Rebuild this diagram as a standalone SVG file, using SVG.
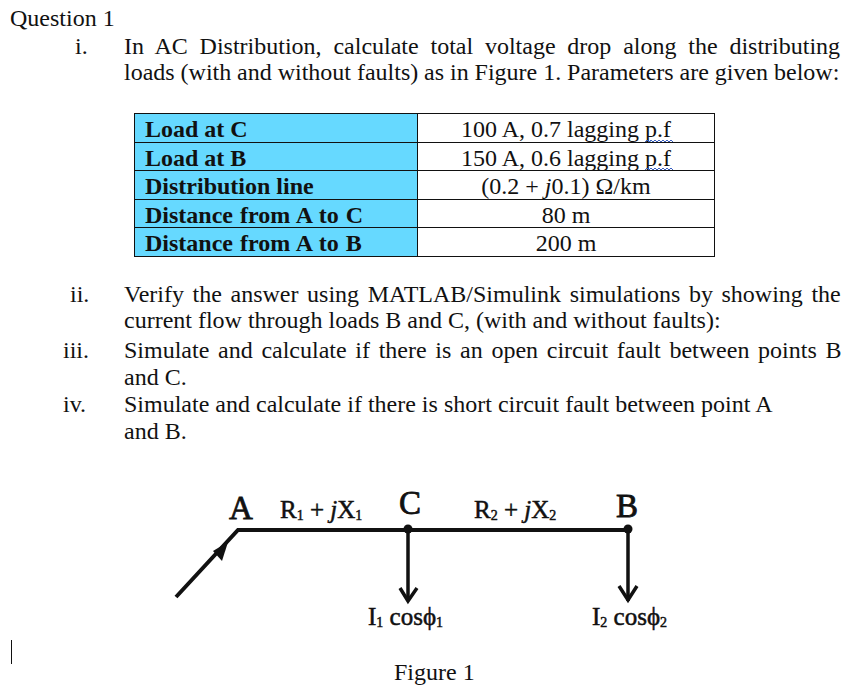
<svg xmlns="http://www.w3.org/2000/svg" width="857" height="698" viewBox="0 0 857 698">
<style>
text{font-family:"Liberation Serif","Times New Roman",serif;fill:#111}
.t{font-size:24px}
.b{font-size:24px;font-weight:bold}
.c{font-size:24px;text-anchor:middle}
.n{font-size:33px;stroke:#111;stroke-width:.8}
.l{font-size:25px;stroke:#111;stroke-width:.5}
.s{font-size:14px}
.cell{fill:#fff;stroke:#111;stroke-width:1}
.blue{fill:#66D9FF;stroke:#111;stroke-width:1}
.wire{fill:none;stroke:#111;stroke-width:4}
.drop{fill:none;stroke:#111;stroke-width:3.500}
.wavy{fill:none;stroke:#3a5fc0;stroke-width:1}
</style>
<rect width="857" height="698" fill="#fff"/>
<g id="text">
<text class="t" x="10" y="26">Question 1</text>
<text class="t" x="75" y="54">i.</text>
<text class="t" x="124" y="54" word-spacing="5.8">In AC Distribution, calculate total voltage drop along the distributing</text>
<text class="t" x="124" y="80" word-spacing="-0.1">loads (with and without faults) as in Figure 1. Parameters are given below:</text>
<text class="t" x="70" y="302">ii.</text>
<text class="t" x="124" y="302" word-spacing="2.6">Verify the answer using MATLAB/Simulink simulations by showing the</text>
<text class="t" x="124" y="328">current flow through loads B and C, (with and without faults):</text>
<text class="t" x="63" y="358">iii.</text>
<text class="t" x="124" y="358" word-spacing="2.700">Simulate and calculate if there is an open circuit fault between points B</text>
<text class="t" x="124" y="385">and C.</text>
<text class="t" x="63" y="412">iv.</text>
<text class="t" x="124" y="412">Simulate and calculate if there is short circuit fault between point A</text>
<text class="t" x="124" y="439">and B.</text>
<text class="t" x="394" y="680">Figure 1</text>
</g>
<g id="table">
<rect class="blue" x="134.500" y="113.500" width="283" height="143"/>
<rect class="cell" x="417.500" y="113.500" width="297" height="143"/>
<path d="M134 142.500H715M134 170.500H715M134 199.500H715M134 227.500H715" stroke="#111" fill="none"/>
<text class="b" x="145" y="137">Load at C</text>
<text class="b" x="145" y="166">Load at B</text>
<text class="b" x="145" y="194">Distribution line</text>
<text class="b" x="145" y="223" word-spacing="1">Distance from A to C</text>
<text class="b" x="145" y="251" word-spacing="1">Distance from A to B</text>
<text class="c" x="566" y="137">100 A, 0.7 lagging p.f</text>
<text class="c" x="566" y="166">150 A, 0.6 lagging p.f</text>
<text class="c" x="566" y="194">(0.2 + <tspan font-style="italic">j</tspan>0.1) Ω/km</text>
<text class="c" x="566" y="223">80 m</text>
<text class="c" x="566" y="251">200 m</text>
<path class="wavy" d="M645 142l2-2 2 2 2-2 2 2 2-2 2 2 2-2 2 2 2-2 2 2 2-2 2 2 2-2 2 2"/>
<path class="wavy" d="M645 170l2-2 2 2 2-2 2 2 2-2 2 2 2-2 2 2 2-2 2 2 2-2 2 2 2-2 2 2"/>
</g>
<g id="connectors">
<path class="wire" d="M176 597L238 530H628"/>
<polygon points="228,542 213,551 222,561" fill="#111"/>
<path class="drop" d="M408 530V601"/>
<path class="drop" d="M400 588L408 601L417 588"/>
<path class="drop" d="M628 530V601"/>
<path class="drop" d="M619 586L628 600L637 586"/>
</g>
<g id="node-A"><text class="n" x="229" y="519">A</text></g>
<g id="node-C"><circle cx="408" cy="529" r="4.500" fill="#111"/><text class="n" x="399" y="514">C</text></g>
<g id="node-B"><circle cx="628" cy="529" r="4.500" fill="#111"/><text class="n" x="616" y="517">B</text></g>
<g id="labels">
<text class="l" x="280" y="518">R<tspan class="s" dy="2">1</tspan><tspan dy="-2"> + </tspan><tspan font-style="italic">j</tspan>X<tspan class="s" dy="2">1</tspan></text>
<text class="l" x="474" y="518">R<tspan class="s" dy="2">2</tspan><tspan dy="-2"> + </tspan><tspan font-style="italic">j</tspan>X<tspan class="s" dy="2">2</tspan></text>
<text class="l" x="368" y="625">I<tspan class="s" dy="2">1</tspan><tspan dy="-2"> cosϕ</tspan><tspan class="s" dy="2">1</tspan></text>
<text class="l" x="592" y="625">I<tspan class="s" dy="2">2</tspan><tspan dy="-2"> cosϕ</tspan><tspan class="s" dy="2">2</tspan></text>
</g>
<path id="cursor" d="M11.500 640V664" stroke="#111" fill="none"/>
</svg>
